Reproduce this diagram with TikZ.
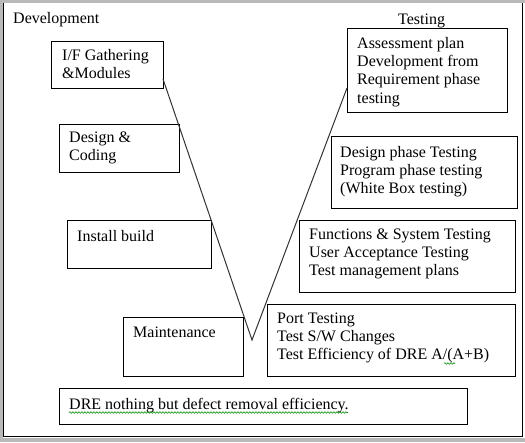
\documentclass[tikz,border=0pt]{standalone}
\usepackage{fontspec}
\setmainfont{Liberation Serif}
\usetikzlibrary{decorations.pathmorphing}
\begin{document}
\begin{tikzpicture}[x=1pt,y=-1pt,
  box/.style={draw=black, line width=1pt, rectangle, inner sep=0pt, anchor=north west},
  txt/.style={anchor=north west, inner sep=0pt, align=left, font=\fontsize{16pt}{18.3pt}\selectfont},
  lbl/.style={anchor=base west, inner sep=0pt, font=\fontsize{16pt}{18.3pt}\selectfont},
  vline/.style={draw=black!80, line width=1pt},
  squig/.style={draw=green!55!black, line width=0.6pt, decorate, decoration={snake, segment length=3pt, amplitude=0.8pt}}]
\useasboundingbox (0,0) rectangle (525,442);
% frame
\fill[gray!55] (0,0) rectangle (525,442);
\fill[white] (3,3) rectangle (525,437.5);
\draw[line width=1pt] (3.5,3) -- (3.5,436.5) -- (522,436.5) -- (522,3);
% headings
\node[lbl] (dev) at (13,23) {Development};
\node[lbl] (tst) at (398,24) {Testing};
% development boxes
\node[box, minimum width=112pt, minimum height=47pt] (b1) at (51,41) {};
\node[txt] (t1) at (62,47.3) {\strut I/F Gathering\\\&Modules};
\node[box, minimum width=120pt, minimum height=48pt] (b2) at (59,124) {};
\node[txt] (t2) at (69,129.3) {\strut Design \&\\Coding};
\node[box, minimum width=144pt, minimum height=48pt] (b3) at (67,220) {};
\node[txt] (t3) at (77,228.3) {\strut Install build};
\node[box, minimum width=120pt, minimum height=59pt] (b4) at (123,317) {};
\node[txt] (t4) at (133,324.3) {\strut Maintenance};
\node[box, minimum width=408pt, minimum height=36pt] (b5) at (59,388) {};
\node[txt] (t5) at (69,396.3) {\strut DRE nothing but defect removal efficiency.};
% testing boxes
\node[box, minimum width=160pt, minimum height=84pt] (c1) at (347,28) {};
\node[txt] (s1) at (357,35.3) {\strut Assessment plan\\Development from\\Requirement phase\\testing};
\node[box, minimum width=186pt, minimum height=72pt] (c2) at (331,136) {};
\node[txt] (s2) at (340,144.3) {\strut Design phase Testing\\Program phase testing\\(White Box testing)};
\node[box, minimum width=216pt, minimum height=72pt] (c3) at (299,220) {};
\node[txt] (s3) at (309,226.3) {\strut Functions \& System Testing\\User Acceptance Testing\\Test management plans};
\node[box, minimum width=248pt, minimum height=72pt] (c4) at (267,304) {};
\node[txt] (s4) at (277,310.3) {\strut Port Testing\\Test S/W Changes\\Test Efficiency of DRE A/(A+B)};
% V line
\coordinate (va) at (163,79);
\coordinate (vb) at (252,340);
\coordinate (vc) at (347,88);
\draw[vline] (va) -- (vb) -- (vc);
% spell-check squiggles
\coordinate (q1) at (69,412.5);
\coordinate (q2) at (348,412.5);
\coordinate (q3) at (444,363.5);
\coordinate (q4) at (455,363.5);
\draw[squig] (q1) -- (q2);
\draw[squig] (q3) -- (q4);
\end{tikzpicture}
\end{document}
